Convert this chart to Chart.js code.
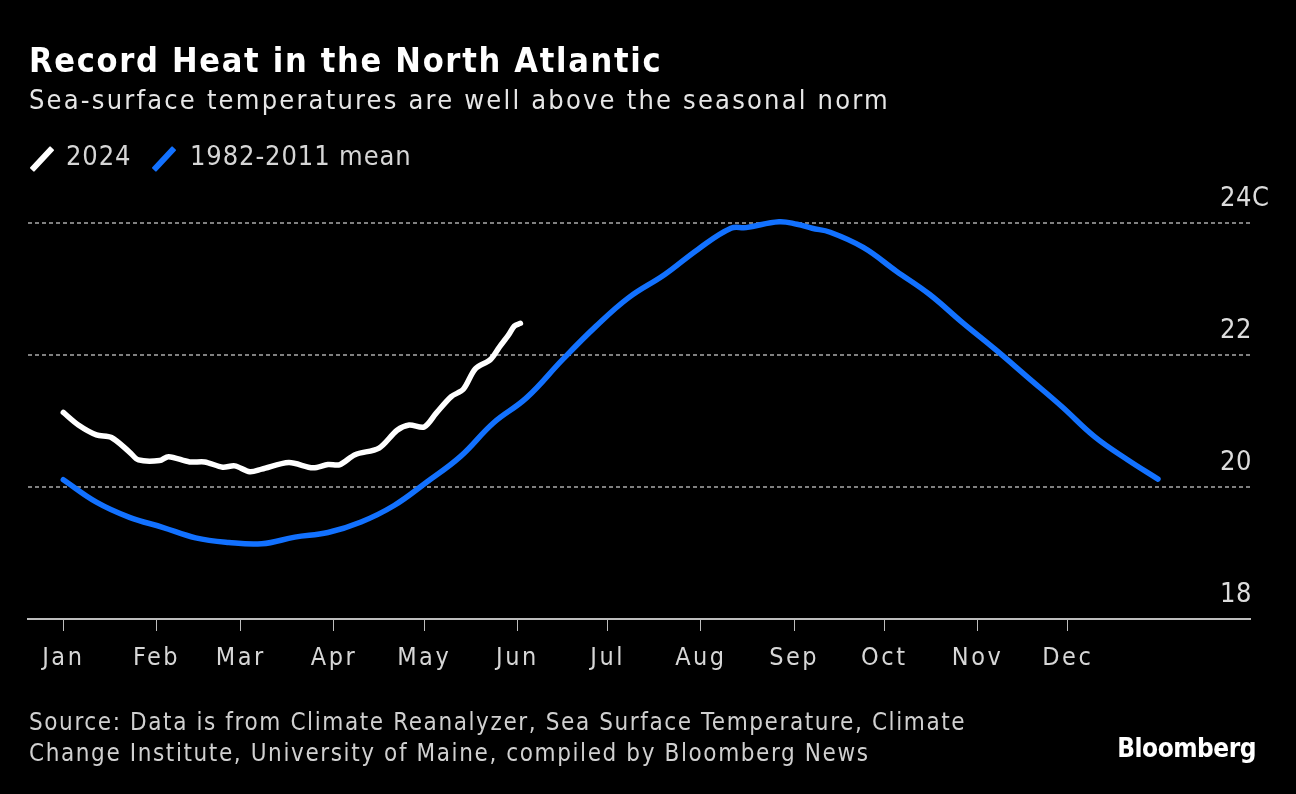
<!DOCTYPE html>
<html>
<head>
<meta charset="utf-8">
<script src="https://cdn.jsdelivr.net/npm/chart.js@4"></script>
<style>
  html, body { margin: 0; padding: 0; background: #000; }
  body { width: 1296px; height: 794px; position: relative; overflow: hidden;
         font-family: "DejaVu Sans Condensed", "DejaVu Sans", sans-serif; color: #fff; }
  #chart { position: absolute; left: 0; top: 0; }
  .txt { position: absolute; white-space: nowrap; }
  #title { left: 29px; top: 40px; font-size: 34px; font-weight: bold; letter-spacing: 1.7px; }
  #subtitle { left: 29px; top: 84px; font-size: 27px; color: #e6e6e6; letter-spacing: 2.2px; }
  .leg { top: 140px; font-size: 27px; color: #d6d6d6; letter-spacing: 0.9px; }
  .swatch { position: absolute; top: 144px; width: 6px; height: 30px; transform: rotate(43deg); border-radius: 1px; }
  #source { left: 29px; top: 707px; font-size: 24px; color: #d0d0d0; line-height: 31px; letter-spacing: 1.6px; }
  #brand { right: 40px; top: 733px; font-size: 26px; font-weight: bold; letter-spacing: -0.5px; }
</style>
</head>
<body>
<canvas id="chart" width="1296" height="794"></canvas>
<div class="txt" id="title">Record Heat in the North Atlantic</div>
<div class="txt" id="subtitle">Sea-surface temperatures are well above the seasonal norm</div>
<div class="swatch" style="left:39px; background:#fff"></div>
<div class="txt leg" style="left:66px">2024</div>
<div class="swatch" style="left:161px; background:#1271ff"></div>
<div class="txt leg" style="left:190px">1982-2011 mean</div>
<div class="txt" id="source">Source: Data is from Climate Reanalyzer, Sea Surface Temperature, Climate<br>Change Institute, University of Maine, compiled by Bloomberg News</div>
<div class="txt" id="brand">Bloomberg</div>
<script>
// Day of year (0 = Jan 1) and temperature in C
const currentDays = [0, 5, 11, 16, 22, 25, 32, 35, 42, 47, 53, 57, 62, 66, 75, 83, 88, 92, 97, 105, 111, 115, 120, 124, 129, 133, 137, 142, 145, 148, 150, 152];
const currentTemps = [21.13, 20.94, 20.79, 20.75, 20.53, 20.41, 20.40, 20.46, 20.38, 20.38, 20.30, 20.32, 20.23, 20.27, 20.37, 20.29, 20.34, 20.34, 20.49, 20.59, 20.86, 20.94, 20.91, 21.12, 21.37, 21.48, 21.79, 21.93, 22.12, 22.30, 22.44, 22.48];

const meanDays = [0, 11, 22, 33, 44, 55, 66, 77, 88, 99, 110, 121, 132, 143, 154, 166, 177, 188, 200, 211, 222, 227, 238, 244, 249, 255, 266, 277, 288, 299, 310, 321, 332, 343, 354, 364];
const meanTemps = [20.11, 19.77, 19.54, 19.39, 19.23, 19.16, 19.14, 19.24, 19.31, 19.47, 19.72, 20.08, 20.46, 20.97, 21.35, 21.93, 22.43, 22.87, 23.22, 23.60, 23.92, 23.93, 24.02, 23.98, 23.92, 23.86, 23.63, 23.27, 22.92, 22.49, 22.08, 21.65, 21.22, 20.76, 20.41, 20.12];

const monthStarts = [0, 31, 59, 90, 120, 151, 181, 212, 243, 273, 304, 334];
const monthLabels = ["Jan", "Feb", "Mar", "Apr", "May", "Jun", "Jul", "Aug", "Sep", "Oct", "Nov", "Dec"];
const tempTicks = [18, 20, 22, 24];
const tempLabels = ["18", "20", "22", "24C"];

const toPoints = (days, temps) => days.map((d, i) => ({ x: d, y: temps[i] }));

// wider spacing for the canvas text, like the page text
const spacing = {
  id: "spacing",
  beforeDraw(chart) { chart.ctx.letterSpacing = "2.5px"; }
};

// Temperature labels sit just above each grid line
const yLabels = {
  id: "yLabels",
  afterDraw(chart) {
    const ctx = chart.ctx;
    const y = chart.scales.y;
    ctx.save();
    ctx.letterSpacing = "0.5px";
    ctx.font = '27px "DejaVu Sans Condensed", "DejaVu Sans", sans-serif';
    ctx.fillStyle = "#dcdcdc";
    ctx.textAlign = "left";
    ctx.textBaseline = "alphabetic";
    tempTicks.forEach((t, i) => {
      ctx.fillText(tempLabels[i], 1220, y.getPixelForValue(t) - 17);
    });
    ctx.restore();
  }
};

new Chart(document.getElementById("chart"), {
  type: "line",
  data: {
    datasets: [
      {
        label: "1982-2011 mean",
        data: toPoints(meanDays, meanTemps),
        borderColor: "#1271ff",
        borderWidth: 5.5,
        pointRadius: 0,
        tension: 0.4,
        borderCapStyle: "round",
        borderJoinStyle: "round",
      },
      {
        label: "2024",
        data: toPoints(currentDays, currentTemps),
        borderColor: "#ffffff",
        borderWidth: 5.5,
        pointRadius: 0,
        tension: 0.3,
        borderCapStyle: "round",
        borderJoinStyle: "round",
      },
    ],
  },
  options: {
    responsive: false,
    animation: false,
    clip: false,
    layout: { padding: { top: 223, left: 28, right: 46, bottom: 115 } },
    plugins: { legend: { display: false }, tooltip: { enabled: false } },
    scales: {
      x: {
        type: "linear",
        min: -11.74,
        max: 394.6,
        afterBuildTicks: (s) => { s.ticks = monthStarts.map((v) => ({ value: v })); },
        afterFit: (s) => { s.height = 60; },
        grid: { drawOnChartArea: false, drawTicks: true, tickLength: 12, color: "#bdbdbd", lineWidth: 1 },
        border: { display: true, color: "#bdbdbd", width: 2 },
        ticks: {
          autoSkip: false,
          maxRotation: 0,
          padding: 12,
          color: "#d6d6d6",
          font: { family: '"DejaVu Sans Condensed", "DejaVu Sans", sans-serif', size: 25 },
          callback: (v) => monthLabels[monthStarts.indexOf(v)],
        },
      },
      y: {
        position: "right",
        min: 18,
        max: 24,
        afterBuildTicks: (s) => { s.ticks = tempTicks.map((v) => ({ value: v })); },
        afterFit: (s) => { s.width = 0; },
        ticks: { display: false },
        border: { display: false, dash: [4, 3] },
        grid: {
          drawTicks: false,
          lineWidth: 2,
          color: (c) => (c.tick && c.tick.value === 18 ? "rgba(0,0,0,0)" : "#808080"),
        },
      },
    },
  },
  plugins: [spacing, yLabels],
});
</script>
</body>
</html>
